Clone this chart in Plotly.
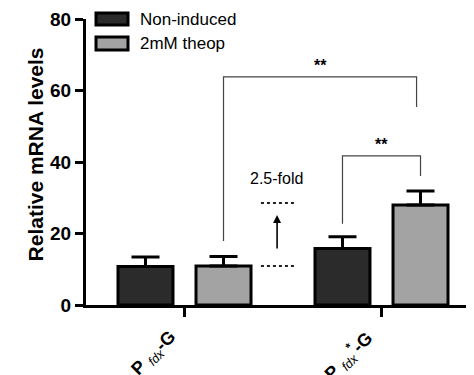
import plotly.graph_objects as go

categories = ["P fdx-G", "P fdx*-G"]
category_labels = ["<b>P</b> <sub><i>fdx</i></sub><b>-G</b>",
                   "<b>P</b> <sub><i>fdx</i></sub><sup><b>*</b></sup><b>-G</b>"]
series_names = ["Non-induced", "2mM theop"]
non_induced = [10.8, 15.8]
non_induced_err = [2.6, 3.3]
theop = [10.9, 28.0]
theop_err = [2.7, 3.9]
y_ticks = [0, 20, 40, 60, 80]

FONT = "Arial"
DARK = "#2b2b2b"
GRAY = "#a3a3a3"

fig = go.Figure()
fig.add_trace(go.Bar(
    x=categories, y=non_induced, name=series_names[0],
    marker=dict(color=DARK, line=dict(color="black", width=3)),
    error_y=dict(type="data", array=non_induced_err, arrayminus=[0, 0], symmetric=False,
                 color="black", thickness=3, width=14),
    showlegend=False,
))
fig.add_trace(go.Bar(
    x=categories, y=theop, name=series_names[1],
    marker=dict(color=GRAY, line=dict(color="black", width=3)),
    error_y=dict(type="data", array=theop_err, arrayminus=[0, 0], symmetric=False,
                 color="black", thickness=3, width=14),
    showlegend=False,
))

# rotated category labels
for cat, lab in zip(categories, category_labels):
    fig.add_annotation(x=cat, xref="x", y=-0.063, yref="paper", text=lab,
                       textangle=-45, xanchor="right", yanchor="top", showarrow=False,
                       font=dict(size=18))

line_style = dict(color="#444444", width=1.2)
fig.add_shape(type="path", xref="x", yref="y",
              path="M 0.198,17.9 L 0.198,63.8 L 1.178,63.8 L 1.178,55.4", line=line_style)
fig.add_shape(type="path", xref="x", yref="y",
              path="M 0.802,22.7 L 0.802,41.7 L 1.198,41.7 L 1.198,36.1", line=line_style)
for yy in (28.5, 10.9):
    fig.add_shape(type="line", xref="x", yref="y", x0=0.388, x1=0.566, y0=yy, y1=yy,
                  line=dict(color="#222222", width=2, dash="dot"))

legend_items = [(series_names[0], DARK, 0.979, 1.021, 0.998),
                (series_names[1], GRAY, 0.892, 0.937, 0.9126)]
for name, col, y0, y1, yt in legend_items:
    fig.add_shape(type="rect", xref="paper", yref="paper", x0=0.0254, x1=0.1066,
                  y0=y0, y1=y1, fillcolor=col, line=dict(color="black", width=3))
    fig.add_annotation(xref="paper", yref="paper", x=0.132, y=yt, xanchor="left",
                       yanchor="middle", text=name, showarrow=False, font=dict(size=17))

fig.add_annotation(x=-0.16, y=0.528, xref="paper", yref="paper",
                   text="<b>Relative mRNA levels</b>", textangle=-90, showarrow=False,
                   font=dict(size=21))
fig.add_annotation(x=0.688, y=66.9, xref="x", yref="y", text="<b>**</b>", showarrow=False,
                   font=dict(size=16))
fig.add_annotation(x=1.0, y=45.0, xref="x", yref="y", text="<b>**</b>", showarrow=False,
                   font=dict(size=16))
fig.add_annotation(x=0.465, y=35.5, xref="x", yref="y", text="2.5-fold", showarrow=False,
                   font=dict(size=16))
fig.add_annotation(x=0.47, y=25.2, xref="x", yref="y", ax=0.47, ay=15.4, axref="x", ayref="y",
                   text="", showarrow=True, arrowhead=2, arrowsize=1, arrowwidth=1.6,
                   arrowcolor="black")

fig.update_layout(
    width=474, height=375,
    margin=dict(l=78, r=2, t=11, b=78, autoexpand=False),
    paper_bgcolor="white", plot_bgcolor="white",
    barmode="group", bargap=0.208, bargroupgap=0.295,
    font=dict(family=FONT, color="black"),
    showlegend=False,
)
fig.update_xaxes(
    autorange=True,
    showline=True, linewidth=3, linecolor="black",
    ticks="outside", ticklen=9, tickwidth=3, tickcolor="black",
    showticklabels=False, showgrid=False, zeroline=False,
)
fig.update_yaxes(
    range=[0, 80], tickvals=y_ticks, ticktext=[f"<b>{v}</b>" for v in y_ticks],
    showline=True, linewidth=3, linecolor="black",
    ticks="outside", ticklen=8, tickwidth=3, tickcolor="black",
    tickfont=dict(size=19),
    showgrid=False, zeroline=False,
)

fig.write_html("out.html")
